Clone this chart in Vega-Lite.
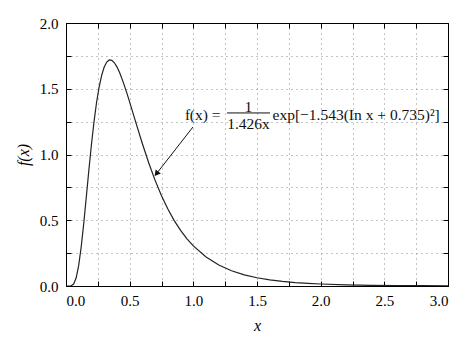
{
  "$schema": "https://vega.github.io/schema/vega-lite/v6.json",
  "width": 382,
  "height": 263,
  "autosize": {"type": "none"},
  "padding": {"left": 66, "top": 23, "right": 26, "bottom": 60},
  "background": "white",
  "config": {
    "view": {"stroke": "black", "strokeWidth": 1},
    "font": "Liberation Serif",
    "axis": {
      "domainColor": "black",
      "tickColor": "black",
      "labelColor": "black",
      "titleColor": "black",
      "labelFont": "Liberation Serif",
      "titleFont": "Liberation Serif",
      "labelFontSize": 15,
      "titleFontSize": 16,
      "titleFontWeight": "normal",
      "tickSize": -5,
      "tickWidth": 1
    }
  },
  "datasets": {
    "curve": [
      {"x": 0.0, "f": 0}, {"x": 0.02, "f": 0.00001}, {"x": 0.04, "f": 0.0013}, {"x": 0.06, "f": 0.0149},
      {"x": 0.08, "f": 0.0622}, {"x": 0.10, "f": 0.1582}, {"x": 0.12, "f": 0.3025}, {"x": 0.14, "f": 0.4831},
      {"x": 0.16, "f": 0.6829}, {"x": 0.18, "f": 0.8857}, {"x": 0.20, "f": 1.0777}, {"x": 0.22, "f": 1.2494},
      {"x": 0.24, "f": 1.3953}, {"x": 0.26, "f": 1.5130}, {"x": 0.28, "f": 1.6024}, {"x": 0.30, "f": 1.6648},
      {"x": 0.32, "f": 1.7027}, {"x": 0.34, "f": 1.7187}, {"x": 0.36, "f": 1.7159}, {"x": 0.38, "f": 1.6976},
      {"x": 0.40, "f": 1.6664}, {"x": 0.42, "f": 1.6251}, {"x": 0.45, "f": 1.5487}, {"x": 0.48, "f": 1.4610},
      {"x": 0.50, "f": 1.3987}, {"x": 0.55, "f": 1.2385}, {"x": 0.60, "f": 1.0815}, {"x": 0.65, "f": 0.9353},
      {"x": 0.70, "f": 0.8033}, {"x": 0.75, "f": 0.6867}, {"x": 0.80, "f": 0.5851}, {"x": 0.85, "f": 0.4975},
      {"x": 0.90, "f": 0.4226}, {"x": 0.95, "f": 0.3588}, {"x": 1.00, "f": 0.3047}, {"x": 1.10, "f": 0.2200},
      {"x": 1.20, "f": 0.1595}, {"x": 1.30, "f": 0.1162}, {"x": 1.40, "f": 0.0852}, {"x": 1.50, "f": 0.0628},
      {"x": 1.60, "f": 0.0466}, {"x": 1.70, "f": 0.0348}, {"x": 1.80, "f": 0.0262}, {"x": 1.90, "f": 0.0198},
      {"x": 2.00, "f": 0.0151}, {"x": 2.20, "f": 0.0089}, {"x": 2.40, "f": 0.0053}, {"x": 2.60, "f": 0.0033},
      {"x": 2.80, "f": 0.0021}, {"x": 3.00, "f": 0.0013}
    ],
    "textLeft": [
      {"x": 0.935, "y": 1.30, "t": "f", "style": "italic"},
      {"x": 0.972, "y": 1.30, "t": "(x) =", "style": "normal"},
      {"x": 1.622, "y": 1.30, "t": "exp[−1.543(In x + 0.735)²]", "style": "normal"}
    ],
    "textCenter": [
      {"x": 1.433, "y": 1.365, "t": "1"},
      {"x": 1.433, "y": 1.235, "t": "1.426x"}
    ],
    "bar": [{"x": 1.265, "x2": 1.602, "y": 1.316}],
    "arrow": [{"x": 0.997, "y": 1.209, "x2": 0.722, "y2": 0.868}],
    "head": [{"x": 0.715, "y": 0.859}]
  },
  "layer": [
    {
      "data": {"name": "curve"},
      "mark": {"type": "line", "color": "#222", "strokeWidth": 1.2, "clip": true},
      "encoding": {
        "x": {
          "field": "x", "type": "quantitative",
          "scale": {"domain": [0, 3], "nice": false},
          "axis": {
            "title": "x", "titleFontStyle": "italic", "titlePadding": 9, "labelPadding": 12,
            "values": [0, 0.25, 0.5, 0.75, 1, 1.25, 1.5, 1.75, 2, 2.25, 2.5, 2.75, 3],
            "labelExpr": "datum.value % 0.5 === 0 ? format(datum.value, '.1f') : ''",
            "grid": true, "gridDash": [1, 4], "gridColor": "#888", "gridWidth": 1
          }
        },
        "y": {
          "field": "f", "type": "quantitative",
          "scale": {"domain": [0, 2], "nice": false},
          "axis": {
            "title": "f(x)", "titleFontStyle": "italic", "titlePadding": 8, "labelPadding": 13,
            "values": [0, 0.25, 0.5, 0.75, 1, 1.25, 1.5, 1.75, 2],
            "labelExpr": "datum.value % 0.5 === 0 ? format(datum.value, '.1f') : ''",
            "grid": true, "gridDash": [1, 4], "gridColor": "#888", "gridWidth": 1
          }
        }
      }
    },
    {
      "data": {"name": "curve"},
      "mark": {"type": "line", "opacity": 0},
      "encoding": {
        "x": {
          "field": "x", "type": "quantitative",
          "axis": {"orient": "top", "title": null, "labels": false, "ticks": true, "tickSize": -5,
            "values": [0, 0.25, 0.5, 0.75, 1, 1.25, 1.5, 1.75, 2, 2.25, 2.5, 2.75, 3], "grid": false}
        },
        "y": {
          "field": "f", "type": "quantitative",
          "axis": {"orient": "right", "title": null, "labels": false, "ticks": true, "tickSize": -5,
            "values": [0, 0.25, 0.5, 0.75, 1, 1.25, 1.5, 1.75, 2], "grid": false}
        }
      }
    },
    {
      "data": {"name": "textLeft"},
      "mark": {"type": "text", "align": "left", "baseline": "middle", "fontSize": 15.5, "color": "#111"},
      "encoding": {
        "x": {"field": "x", "type": "quantitative", "axis": null},
        "y": {"field": "y", "type": "quantitative", "axis": null},
        "text": {"field": "t"},
        "fontStyle": {"field": "style", "type": "nominal", "scale": null, "legend": null}
      }
    },
    {
      "data": {"name": "textCenter"},
      "mark": {"type": "text", "align": "center", "baseline": "middle", "fontSize": 15.5, "color": "#111"},
      "encoding": {
        "x": {"field": "x", "type": "quantitative", "axis": null},
        "y": {"field": "y", "type": "quantitative", "axis": null},
        "text": {"field": "t"}
      }
    },
    {
      "data": {"name": "bar"},
      "mark": {"type": "rule", "color": "#111", "strokeWidth": 1},
      "encoding": {
        "x": {"field": "x", "type": "quantitative", "axis": null},
        "x2": {"field": "x2"},
        "y": {"field": "y", "type": "quantitative", "axis": null}
      }
    },
    {
      "data": {"name": "arrow"},
      "mark": {"type": "rule", "color": "#111", "strokeWidth": 1},
      "encoding": {
        "x": {"field": "x", "type": "quantitative", "axis": null},
        "x2": {"field": "x2"},
        "y": {"field": "y", "type": "quantitative", "axis": null},
        "y2": {"field": "y2"}
      }
    },
    {
      "data": {"name": "head"},
      "mark": {"type": "point", "shape": "triangle", "angle": 218, "filled": true, "color": "#111", "size": 45, "opacity": 1},
      "encoding": {
        "x": {"field": "x", "type": "quantitative", "axis": null},
        "y": {"field": "y", "type": "quantitative", "axis": null}
      }
    }
  ],
  "resolve": {"axis": {"x": "independent", "y": "independent"}}
}
